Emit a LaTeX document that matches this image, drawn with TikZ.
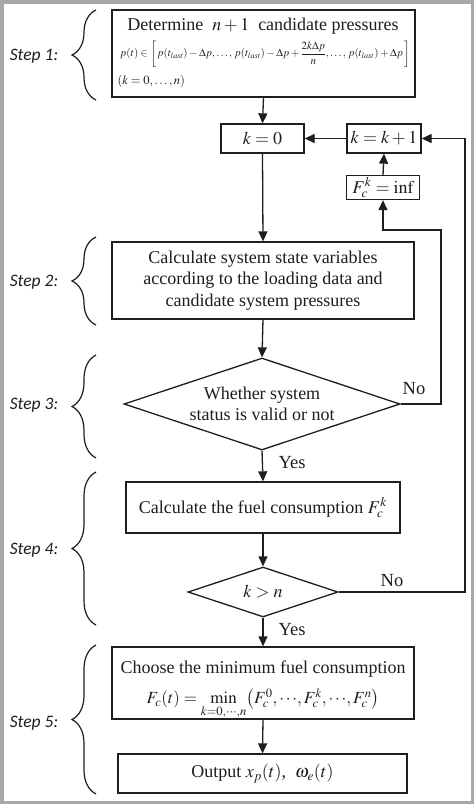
\documentclass[tikz,border=0pt]{standalone}
\usepackage{mathptmx}
\usepackage{fontspec}
\setmainfont{Liberation Serif}
\newfontfamily\stepfont{Carlito}
\usetikzlibrary{arrows.meta,shapes.geometric,decorations.pathreplacing}
\definecolor{linec}{HTML}{1E1E1E}
\definecolor{framec}{HTML}{A8A8A8}
\begin{document}
\begin{tikzpicture}[x=1pt,y=-1pt,
  every node/.style={font=\fontsize{18}{21.5}\selectfont, text=linec},
  boxn/.style={draw=linec, line width=1.3pt, rectangle, inner sep=0pt, align=center},
  dia/.style={draw=linec, line width=1.3pt, diamond, shape aspect=3, inner sep=0pt, align=center},
  arr/.style={draw=linec, line width=1.3pt, -{Triangle[length=10pt,width=9pt]}},
  ln/.style={draw=linec, line width=1.3pt},
  brc/.style={draw=linec, line width=1.2pt, decorate, decoration={brace, amplitude=24pt}},
  steplab/.style={font=\stepfont\itshape\fontsize{17.5}{20}\selectfont, anchor=center},
  yn/.style={font=\fontsize{18.5}{20}\selectfont}
]
\useasboundingbox (0,0) rectangle (474,804);
\fill[white] (0,0) rectangle (474,804);
\draw[framec, line width=3.5pt] (1.75,1.75) rectangle (472.25,802.25);

% Step 1 box
\node[boxn, minimum width=303pt, minimum height=87pt] (box1) at (263.5,53.5) {};
\node (t1) at (263,26) {Determine \ $n+1$ \ candidate pressures};
\node (f1) at (265,54) {\resizebox{290pt}{!}{$p(t)\in\left[\,p(t_{last})-\Delta p,\dots,\,p(t_{last})-\Delta p+\displaystyle\frac{2k\Delta p}{n},\dots,\,p(t_{last})+\Delta p\,\right]$}};
\node[anchor=west] (f2) at (114,81) {\fontsize{12.5}{14}\selectfont$\left(k=0,\dots,n\right)$};

\node[boxn, minimum width=83pt, minimum height=29pt] (k0) at (262.5,138.5) {$k=0$};
\node[boxn, minimum width=74pt, minimum height=29pt] (kk1) at (384,138.5) {$k=k+1$};
\node[boxn, minimum width=73pt, minimum height=24pt] (finf) at (383,187.5) {$F_c^k=\mathrm{inf}$};

\node[boxn, minimum width=302pt, minimum height=77pt] (box2) at (263,280.5)
  {Calculate system state variables\\according to the loading data and\\candidate system pressures};
\node[dia, minimum width=276pt, minimum height=92pt] (dia1) at (262,404)
  {Whether system\\status is valid or not};
\node[boxn, minimum width=274pt, minimum height=51pt] (box4) at (263,507.5)
  {Calculate the fuel consumption $F_c^k$};
\node[dia, minimum width=150pt, minimum height=50pt] (dia2) at (263,592) {$k>n$};
\node[boxn, minimum width=302pt, minimum height=72pt] (box5) at (263,683) {};
\node (t5) at (263,669) {Choose the minimum fuel consumption};
\node[inner sep=0pt] (f5) at (263,704) {\fontsize{17}{20}\selectfont$F_c(t)=\min\limits_{k=0,\cdots,n}\bigl(F_c^0,\cdots\!,F_c^k,\cdots\!,F_c^n\bigr)$};
\node[boxn, minimum width=289pt, minimum height=39pt] (box6) at (262.5,773.5)
  {Output $x_p(t)$, \ $\omega_e(t)$};

\coordinate (loopA) at (441,230);
\coordinate (loopR) at (465,138.5);

% connectors
\draw[arr] (box1.south) -- (k0.north);
\draw[arr] (kk1.west) -- (k0.east);
\draw[arr] (finf.north) -- (kk1.south);
\draw[arr] (k0.south) -- (box2.north);
\draw[arr] (box2.south) -- (dia1.north);
\draw[arr] (dia1.east) -| (loopA) -| (finf.south);
\draw[arr] (dia1.south) -- (box4.north);
\draw[arr] (box4.south) -- (dia2.north);
\draw[arr] (dia2.east) -| (loopR) -- (kk1.east);
\draw[arr] (dia2.south) -- (box5.north);
\draw[arr] (box5.south) -- (box6.north);

\node[yn] (no1) at (414,389) {No};
\node[yn] (yes1) at (292,463) {Yes};
\node[yn] (no2) at (392,581) {No};
\node[yn] (yes2) at (292,630) {Yes};

% braces
\draw[brc] (96,100) -- (96,10);
\draw[brc] (96,325) -- (96,237);
\draw[brc] (96,458) -- (96,355);
\draw[brc] (96,625) -- (96,472);
\draw[brc] (96,794) -- (96,645);

\node[steplab] (s1) at (34,56) {Step 1:};
\node[steplab] (s2) at (34,282) {Step 2:};
\node[steplab] (s3) at (34,405) {Step 3:};
\node[steplab] (s4) at (34,550) {Step 4:};
\node[steplab] (s5) at (34,723) {Step 5:};
\end{tikzpicture}
\end{document}
